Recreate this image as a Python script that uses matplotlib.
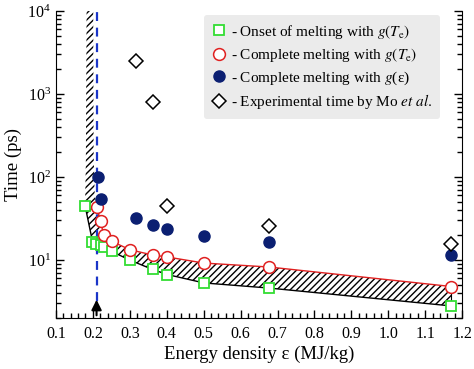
import numpy as np
import matplotlib
matplotlib.use('Agg')
import matplotlib.pyplot as plt
from matplotlib.ticker import MultipleLocator, LogLocator, NullFormatter

plt.rcParams['font.family'] = 'Liberation Serif'
plt.rcParams['mathtext.fontset'] = 'stix'
plt.rcParams['hatch.linewidth'] = 1.0

# data (energy density in MJ/kg, time in ps)
onset_x = [0.179, 0.199, 0.209, 0.221, 0.229, 0.251, 0.300, 0.362, 0.401, 0.501, 0.677, 1.171]
onset_y = [45.0, 16.7, 15.7, 15.3, 14.2, 12.7, 10.0, 7.7, 6.7, 5.3, 4.6, 2.8]

compl_x = [0.210, 0.221, 0.229, 0.251, 0.301, 0.362, 0.401, 0.501, 0.677, 1.171]
compl_y = [44.0, 29.6, 19.9, 16.8, 13.3, 11.5, 10.9, 9.2, 8.25, 4.8]

geps_x = [0.213, 0.221, 0.318, 0.362, 0.401, 0.501, 0.677, 1.171]
geps_y = [100.0, 54.8, 32.4, 26.2, 23.7, 19.4, 16.6, 11.6]

exp_x = [0.318, 0.362, 0.401, 0.677, 1.171]
exp_y = [2500.0, 800.0, 45.0, 25.5, 15.5]

# upper part of the hatched strip near the threshold
strip_left_x = [0.183, 0.182, 0.181]
strip_left_y = [10000.0, 1000.0, 150.0]
strip_right_x = [0.201, 0.202, 0.205]
strip_right_y = [10000.0, 200.0, 60.0]

threshold = 0.21

fig = plt.figure(figsize=(4.74, 3.69), dpi=100)
ax = fig.add_axes([0.118, 0.138, 0.857, 0.832])

# hatched region
poly_x = strip_left_x + onset_x + compl_x[::-1] + strip_right_x[::-1]
poly_y = strip_left_y + onset_y + compl_y[::-1] + strip_right_y[::-1]
ax.fill(poly_x, poly_y, facecolor='none', edgecolor='black', hatch='/////', linewidth=0)
ax.plot(onset_x, onset_y, color='black', lw=1.0, zorder=2)
ax.plot(compl_x, compl_y, color='#e02020', lw=1.0, zorder=2)
ax.plot([onset_x[-1], compl_x[-1]], [onset_y[-1], compl_y[-1]], color='black', lw=0.8)

# threshold line and arrow
ax.plot([threshold, threshold], [3.2, 10000], color='#1a35c8', lw=1.6, ls=(0, (4, 3)), zorder=1)
ax.annotate('', xy=(threshold, 3.6), xytext=(threshold, 2.0),
            arrowprops=dict(arrowstyle='-|>', color='black', lw=1.5, mutation_scale=15))

ax.plot(onset_x, onset_y, 's', ms=7.5, mfc='white', mec='#33dd33', mew=1.3, ls='none',
        label=r'- Onset of melting with $g(T_{\rm e})$', zorder=4)
ax.plot(compl_x, compl_y, 'o', ms=8.5, mfc='white', mec='#e02020', mew=1.1, ls='none',
        label=r'- Complete melting with $g(T_{\rm e})$', zorder=4)
ax.plot(geps_x, geps_y, 'o', ms=8, color='#0b1f72', ls='none',
        label=r'- Complete melting with $g$(ε)', zorder=4)
ax.plot(exp_x, exp_y, 'D', ms=7, mfc='white', mec='black', mew=1.1, ls='none',
        label=r'- Experimental time by Mo $et\ al.$', zorder=4)

ax.set_yscale('log')
ax.set_xlim(0.1, 1.2)
ax.set_ylim(2, 10000)
ax.xaxis.set_major_locator(MultipleLocator(0.1))
ax.xaxis.set_minor_locator(MultipleLocator(0.02))
ax.xaxis.set_major_formatter(plt.FuncFormatter(lambda v, p: f'{v:.1f}'))
ax.yaxis.set_major_locator(LogLocator(base=10, numticks=10))
ax.yaxis.set_minor_locator(LogLocator(base=10, subs=np.arange(2, 10), numticks=20))
ax.yaxis.set_minor_formatter(NullFormatter())

ax.spines['top'].set_visible(False)
ax.tick_params(which='both', direction='in', right=True, top=False, labelsize=11.5, width=1)
ax.tick_params(which='major', length=6)
ax.tick_params(which='minor', length=3.5)
ax.tick_params(axis='x', which='major', pad=6)

ax.set_xlabel('Energy density ε (MJ/kg)', fontsize=13.5, labelpad=2)
ax.set_ylabel('Time (ps)', fontsize=13.5, labelpad=4)

leg = ax.legend(loc='upper right', bbox_to_anchor=(0.946, 0.987), borderaxespad=0,
                fontsize=11, frameon=True, fancybox=True, facecolor='#ebebeb',
                edgecolor='none', framealpha=1, handlelength=1.0, handletextpad=0.3,
                labelspacing=0.35, borderpad=0.5)

fig.savefig('out.png', dpi=100)
